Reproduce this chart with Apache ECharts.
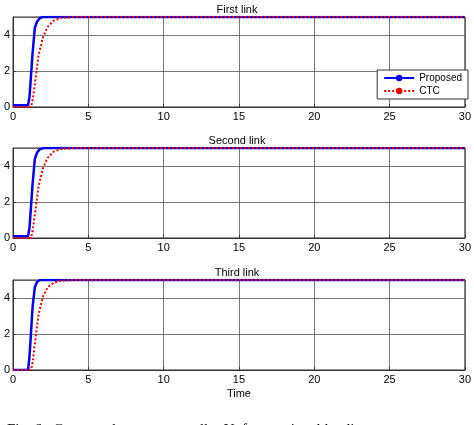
<!DOCTYPE html>
<html><head><meta charset="utf-8">
<script src="https://cdn.jsdelivr.net/npm/echarts@6/dist/echarts.min.js"></script>
<style>body{margin:0;background:#fff}#main{width:474px;height:425px}</style>
</head><body><div id="main"></div>
<script>
var titles = ['First link', 'Second link', 'Third link'];
var xTicks = [0, 5, 10, 15, 20, 25, 30];
// [time, value]
var proposed = [
  [[0,0.1],[1,0.1],[1.1,0.6],[1.3,3],[1.45,4.4],[1.6,4.75],[1.8,4.95],[2,5],[30,5]],
  [[0,0.1],[1,0.1],[1.1,0.6],[1.3,3],[1.45,4.4],[1.6,4.75],[1.8,4.95],[2.1,5],[30,5]],
  [[0,0],[1,0],[1.1,0.8],[1.3,3.5],[1.45,4.6],[1.6,4.9],[1.8,5],[30,5]]
];
var ctc = [
  [[0,0],[1.2,0],[1.3,0.4],[1.5,1.6],[1.7,2.9],[2,3.9],[2.3,4.45],[2.7,4.8],[3.2,4.95],[4,5],[30,5]],
  [[0,0],[1.2,0],[1.3,0.4],[1.5,1.6],[1.7,2.9],[2,3.9],[2.3,4.45],[2.7,4.8],[3.2,4.95],[4,5],[30,5]],
  [[0,0],[1.2,0],[1.3,0.4],[1.5,1.8],[1.7,3.1],[2,4.1],[2.3,4.6],[2.7,4.85],[3.2,4.97],[4,5],[30,5]]
];

var myChart = echarts.init(document.getElementById('main'));
var tops = [17, 148, 280];
var grids = [], xAxes = [], yAxes = [], series = [], title = [];
for (var i = 0; i < 3; i++) {
  grids.push({left: 13, right: 4, top: tops[i], height: 90,
    show: true, borderColor: '#333', borderWidth: 1});
  title.push({text: titles[i], left: 'center', top: tops[i] - 18,
    textStyle: {fontSize: 11, fontWeight: 'normal', fontFamily: 'Liberation Sans', color: '#000'}});
  xAxes.push({type: 'value', gridIndex: i, min: 0, max: 30, interval: 5,
    axisLine: {lineStyle: {color: '#333'}}, axisTick: {inside: true, length: 3},
    splitLine: {lineStyle: {color: '#555', width: 0.8}},
    axisLabel: {fontSize: 11, color: '#000', margin: 4, fontFamily: 'Liberation Sans'}});
  yAxes.push({type: 'value', gridIndex: i, min: 0, max: 5, interval: 2,
    axisLine: {show: true, lineStyle: {color: '#333'}}, axisTick: {inside: true, length: 3},
    splitLine: {lineStyle: {color: '#555', width: 0.8}},
    axisLabel: {fontSize: 11, color: '#000', margin: 3, showMaxLabel: false, fontFamily: 'Liberation Sans'}});
  series.push({name: 'Proposed', type: 'line', xAxisIndex: i, yAxisIndex: i, data: proposed[i],
    symbol: 'none', lineStyle: {color: '#0000ee', width: 2.5}, itemStyle: {color: '#0000ee'}, z: 3});
  series.push({name: 'CTC', type: 'line', xAxisIndex: i, yAxisIndex: i, data: ctc[i],
    symbol: 'none', lineStyle: {color: '#ee0000', width: 2, type: [2, 2]}, itemStyle: {color: '#ee0000'}, z: 4});
}
xAxes[2].name = 'Time';
xAxes[2].nameLocation = 'middle';
xAxes[2].nameGap = 18;
xAxes[2].nameTextStyle = {fontSize: 11, color: '#000', fontFamily: 'Liberation Sans'};
title.push({text: 'Fig. 6.  Computed torque controller U  for rotational loading', left: 2, top: 418,
  textStyle: {fontSize: 15, fontWeight: 'normal', fontFamily: 'Liberation Serif', color: '#000'}});

myChart.setOption({
  animation: false,
  title: title,
  legend: {data: ['Proposed', 'CTC'], orient: 'vertical', right: 6, top: 70,
    backgroundColor: '#fff', borderColor: '#333', borderWidth: 1, padding: [3, 6],
    itemGap: 3, itemWidth: 30, itemHeight: 8,
    textStyle: {fontSize: 10, fontFamily: 'Liberation Sans', color: '#000'}},
  grid: grids, xAxis: xAxes, yAxis: yAxes, series: series
});
</script></body></html>
